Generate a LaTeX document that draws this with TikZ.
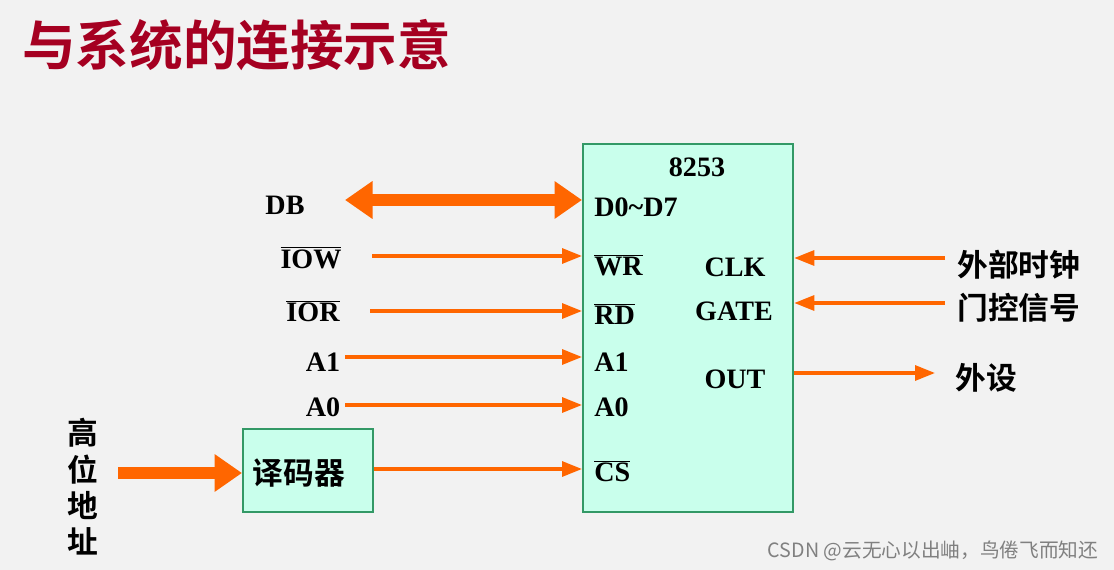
\documentclass[tikz,border=0pt]{standalone}
\usepackage{fontspec}
\setmainfont{Liberation Serif}
\newfontfamily\cjk{Noto Sans CJK SC}
\newfontfamily\cjkb{Noto Sans CJK SC Bold}
\usetikzlibrary{arrows.meta}
\definecolor{bg}{HTML}{F2F2F2}
\definecolor{org}{HTML}{FF6600}
\definecolor{mint}{HTML}{C9FFEC}
\definecolor{grn}{HTML}{339966}
\definecolor{ttl}{HTML}{A50021}
\begin{document}
\begin{tikzpicture}[x=0.02cm,y=-0.02cm,
  lab/.style={font=\fontsize{16}{18}\selectfont\bfseries,inner sep=0},
  clab/.style={font=\fontsize{17.5}{18}\selectfont\cjkb,inner sep=0},
  sig/.style={org,line width=1.8pt,-{Triangle[length=4mm,width=3mm]}},
  fat/.style={org,line width=0.24cm,-{Triangle[length=0.55cm,width=0.72cm]}},
  box/.style={draw=grn,fill=mint,line width=1.3pt}]
\fill[bg] (0,0) rectangle (1114,570);
\useasboundingbox (0,0) rectangle (1114,570);
\node[anchor=west,text=ttl,font=\fontsize{30.5}{32}\selectfont\cjkb,inner sep=0] (title) at (22,45) {与系统的连接示意};
\node[box,minimum width=210*0.02cm,minimum height=368*0.02cm,anchor=north west] (chip) at (582,143) {};
\node[box,minimum width=130*0.02cm,minimum height=83*0.02cm,anchor=north west] (dec) at (242,428) {};
\node[clab] at (299,473) {译码器};
% chip labels
\node[lab] at (697,167) {8253};
\node[lab,anchor=west] (d07) at (594,207) {D0\textasciitilde D7};
\node[lab,anchor=west] (wr) at (594,265) {$\overline{\mbox{WR}}$};
\node[lab,anchor=west] (rd) at (594,314) {$\overline{\mbox{RD}}$};
\node[lab,anchor=west] (a1i) at (594,362) {A1};
\node[lab,anchor=west] (a0i) at (594,407) {A0};
\node[lab,anchor=west] (cs) at (594,471) {$\overline{\mbox{CS}}$};
\node[lab] (clk) at (735,267) {CLK};
\node[lab] (gate) at (734,311) {GATE};
\node[lab] (out) at (735,379) {OUT};
% left labels
\node[lab] (db) at (285,205) {DB};
\node[lab] (iow) at (311,258) {$\overline{\mbox{IOW}}$};
\node[lab] (ior) at (313,311) {$\overline{\mbox{IOR}}$};
\node[lab] (a1) at (323,362) {A1};
\node[lab] (a0) at (323,407) {A0};
\node[clab] (h1) at (83,433) {高};
\node[clab] (h2) at (83,470) {位};
\node[clab] (h3) at (83,506) {地};
\node[clab] (h4) at (83,541) {址};
% right labels
\node[clab,anchor=west] (ext) at (957,265) {外部时钟};
\node[clab,anchor=west] (gc) at (957,308) {门控信号};
\node[clab,anchor=west] (per) at (955,378) {外设};
% connectors
\coordinate (dbL) at (345,200); \coordinate (dbR) at (582,200);
\draw[fat,{Triangle[length=0.55cm,width=0.72cm]}-{Triangle[length=0.55cm,width=0.72cm]}] (dbL) -- (dbR);
\coordinate (hiR) at (118,473);
\draw[fat] (hiR) -- (dec.west |- hiR);
\draw[sig] (372,256) -- (chip.west |- 0,256);
\draw[sig] (370,311) -- (chip.west |- 0,311);
\draw[sig] (345,357) -- (chip.west |- 0,357);
\draw[sig] (345,405) -- (chip.west |- 0,405);
\draw[sig] (dec.east |- 0,469) -- (chip.west |- 0,469);
\draw[sig] (945,258) -- (chip.east |- 0,258);
\draw[sig] (945,303) -- (chip.east |- 0,303);
\draw[sig] (chip.east |- 0,373) -- (935,373);
\node[text=gray,font=\fontsize{11.2}{12}\selectfont\cjk,inner sep=0] (wm) at (933,551) {CSDN @云无心以出岫，鸟倦飞而知还};
\end{tikzpicture}
\end{document}
